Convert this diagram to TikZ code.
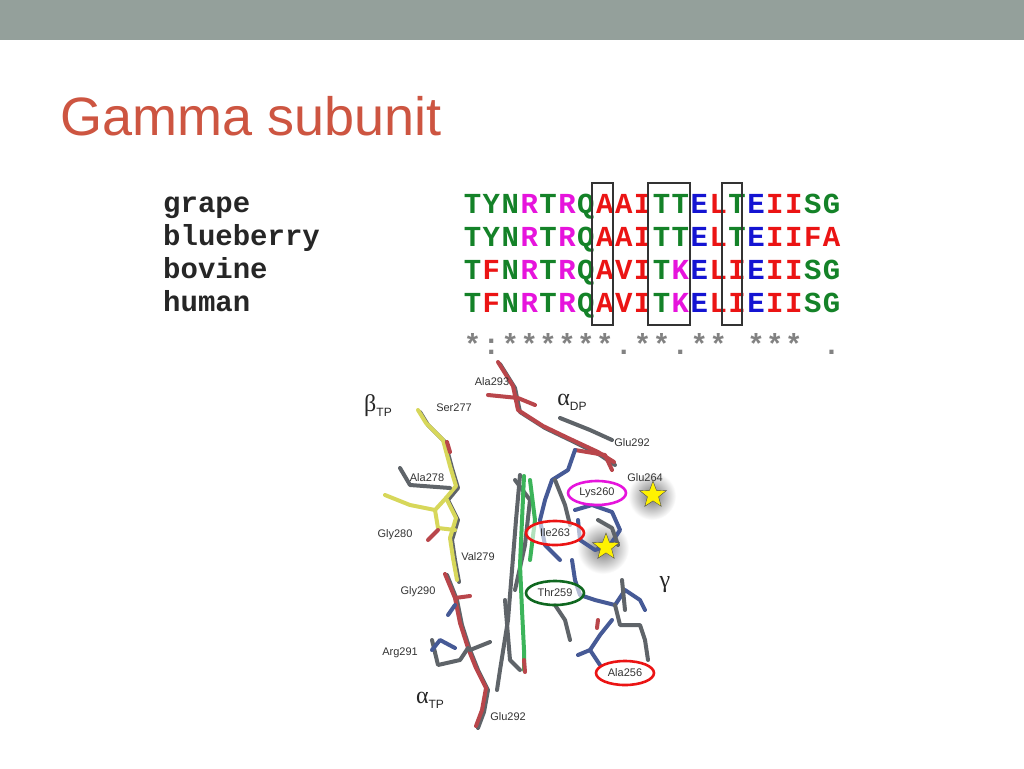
\documentclass[tikz,border=0pt]{standalone}
\usepackage{fontspec}
\setmainfont{Liberation Sans}
\newfontfamily\mono{Liberation Mono}[BoldFont={* Bold}]
\newfontfamily\grk{Liberation Serif}
\usetikzlibrary{shapes.geometric}
\definecolor{bar}{RGB}{148,160,155}
\definecolor{ttl}{RGB}{205,85,65}
\definecolor{cg}{RGB}{20,130,40}
\definecolor{cm}{RGB}{230,20,220}
\definecolor{cr}{RGB}{235,20,20}
\definecolor{cb}{RGB}{20,20,210}
\definecolor{cst}{RGB}{130,130,130}
\definecolor{yel}{RGB}{215,215,90}
\definecolor{rd}{RGB}{185,70,75}
\definecolor{gy}{RGB}{95,100,105}
\definecolor{bl}{RGB}{70,90,150}
\definecolor{gr}{RGB}{60,180,90}
\tikzset{
 aa/.style={font=\mono\bfseries\fontsize{29}{29}\selectfont,inner sep=0pt,anchor=base},
 nm/.style={font=\mono\bfseries\fontsize{29}{29}\selectfont,text=black!85,inner sep=0pt,anchor=base west},
 lab/.style={font=\fontsize{11}{11}\selectfont,text=black!80,inner sep=1pt},
 ring/.style={draw,ellipse,line width=2.6pt,inner sep=1pt,minimum height=24pt,minimum width=58pt,fill=white,fill opacity=0.6,text opacity=1},
 greek/.style={font=\grk\fontsize{24}{24}\selectfont,text=black!85,inner sep=1pt},
 stick/.style={line width=4pt,line cap=round,line join=round},
 abox/.style={draw=black!80,line width=1.6pt}
}
\newcommand{\seqrow}[3]{%
 \foreach \c/\col [count=\i from 0] in {#2} {
  \node[aa,text=\col] (s#3-\i) at ({472.5+18.9*\i},#1) {\c};}}
\newcommand{\subtxt}[1]{\raisebox{-5pt}{\fontspec{Liberation Sans}\fontsize{12}{12}\selectfont #1}}
\begin{document}
\begin{tikzpicture}[x=1pt,y=-1pt]
\useasboundingbox (0,0) rectangle (1024,768);
\fill[white] (0,0) rectangle (1024,768);
\fill[bar] (0,0) rectangle (1024,40);
\node[anchor=base west,text=ttl,font=\fontsize{54}{54}\selectfont,inner sep=0pt] (title) at (60,135) {Gamma subunit};
% names
\node[nm] (n1) at (163,212) {grape};
\node[nm] (n2) at (163,245) {blueberry};
\node[nm] (n3) at (163,278) {bovine};
\node[nm] (n4) at (163,311) {human};
\seqrow{213}{T/cg,Y/cg,N/cg,R/cm,T/cg,R/cm,Q/cg,A/cr,A/cr,I/cr,T/cg,T/cg,E/cb,L/cr,T/cg,E/cb,I/cr,I/cr,S/cg,G/cg}{1}
\seqrow{246}{T/cg,Y/cg,N/cg,R/cm,T/cg,R/cm,Q/cg,A/cr,A/cr,I/cr,T/cg,T/cg,E/cb,L/cr,T/cg,E/cb,I/cr,I/cr,F/cr,A/cr}{2}
\seqrow{279}{T/cg,F/cr,N/cg,R/cm,T/cg,R/cm,Q/cg,A/cr,V/cr,I/cr,T/cg,K/cm,E/cb,L/cr,I/cr,E/cb,I/cr,I/cr,S/cg,G/cg}{3}
\seqrow{312}{T/cg,F/cr,N/cg,R/cm,T/cg,R/cm,Q/cg,A/cr,V/cr,I/cr,T/cg,K/cm,E/cb,L/cr,I/cr,E/cb,I/cr,I/cr,S/cg,G/cg}{4}
\foreach \c [count=\i from 0] in {*,:,*,*,*,*,*,*,.,*,*,.,*,*, ,*,*,*, ,.} {
 \node[aa,text=cst] (c\i) at ({472.5+18.9*\i},354) {\c};}
\draw[abox] (592,183) rectangle (613,325);
\draw[abox] (648,183) rectangle (690,325);
\draw[abox] (722,183) rectangle (742,325);
% shadows under stars
\shade[inner color=black!55,outer color=white] (652,496) circle (24);
\shade[inner color=black!55,outer color=white] (603,548) circle (26);
% yellow beta chain
\draw[stick,gy] (420,412)--(428,425)--(445,442)--(452,468)--(458,488)--(448,500)--(458,520)--(452,540)--(455,560)--(459,582);
\draw[stick,yel] (418,410)--(426,423)--(443,440)--(450,466)--(456,486)--(446,498)--(456,518)--(450,538)--(453,558)--(457,580);
\draw[stick,yel] (385,495)--(410,505)--(435,510)--(446,498);
\draw[stick,yel] (435,510)--(438,528)--(455,530);
\draw[stick,gy] (400,468)--(410,485)--(450,488);
\draw[stick,rd] (447,442)--(450,452);
\draw[stick,rd] (428,540)--(438,530);
% alpha TP chain
\draw[stick,gy] (447,575)--(457,600)--(462,625)--(470,650)--(478,670)--(488,690)--(484,712)--(478,728);
\draw[stick,rd] (445,574)--(455,598)--(460,623)--(468,648)--(476,668)--(486,688)--(482,710)--(476,726);
\draw[stick,rd] (455,598)--(470,596);
\draw[stick,bl] (455,605)--(448,615);
\draw[stick,gy] (432,640)--(438,665)--(460,660)--(468,648);
\draw[stick,bl] (432,650)--(440,640)--(455,648);
\draw[stick,gy] (470,650)--(490,642);
% ring column (gray + green)
\draw[stick,gy] (520,475)--(516,520)--(512,570)--(508,620)--(500,670)--(497,690);
\draw[stick,gy] (515,480)--(530,500)--(525,545)--(515,590);
\draw[stick,gr] (524,476)--(522,520)--(520,565)--(522,610)--(524,650)--(524,670);
\draw[stick,gr] (530,480)--(535,520)--(530,560);
\draw[stick,rd] (524,660)--(525,672);
\draw[stick,gy] (505,600)--(510,660)--(520,670);
% alpha DP chain
\draw[stick,gy] (500,364)--(515,388)--(520,412)--(545,428)--(570,440)--(600,455)--(615,465);
\draw[stick,rd] (498,362)--(513,386)--(518,410)--(543,426)--(568,438)--(598,452)--(614,462);
\draw[stick,rd] (488,395)--(518,398)--(535,405);
\draw[stick,gy] (560,418)--(590,430)--(612,440);
\draw[stick,rd] (575,450)--(605,455)--(612,470);
% gamma chain (blue/gray)
\draw[stick,bl] (575,450)--(568,470)--(552,480)--(545,500)--(540,520)--(545,545)--(560,560);
\draw[stick,gy] (555,480)--(565,505)--(570,525);
\draw[stick,bl] (575,510)--(592,505)--(612,512)--(620,530)--(610,545)--(595,550)--(580,540)--(578,520);
\draw[stick,gy] (598,520)--(612,528)--(618,545);
\draw[stick,bl] (572,560)--(575,580)--(580,595)--(595,600)--(615,605)--(625,590)--(640,600)--(645,610);
\draw[stick,gy] (615,605)--(620,625)--(640,625)--(645,640)--(648,660);
\draw[stick,gy] (555,605)--(565,620)--(570,640);
\draw[stick,gy] (622,580)--(625,610);
\draw[stick,bl] (612,620)--(600,635)--(590,650)--(578,655);
\draw[stick,rd] (598,620)--(597,628);
\draw[stick,bl] (590,650)--(600,665);
% labels
\node[lab] (l1) at (492,382) {Ala293};
\node[greek] (ad) at (572,402) {α\subtxt{DP}};
\node[greek] (bt) at (378,406) {β\subtxt{TP}};
\node[lab] (l2) at (454,408) {Ser277};
\node[lab] (l3) at (632,443) {Glu292};
\node[lab] (l4) at (645,478) {Glu264};
\node[lab,ring,draw=cm] (l5) at (597,493) {Lys260};
\node[lab] (l6) at (427,478) {Ala278};
\node[lab] (l7) at (395,535) {Gly280};
\node[lab,ring,draw=cr] (l8) at (555,533) {Ile263};
\node[lab] (l9) at (478,557) {Val279};
\node[greek] (g) at (665,585) {γ};
\node[lab] (l10) at (418,592) {Gly290};
\node[lab,ring,draw=cg!80!black] (l11) at (555,593) {Thr259};
\node[lab] (l12) at (400,653) {Arg291};
\node[lab,ring,draw=cr] (l13) at (625,673) {Ala256};
\node[greek] (at) at (430,700) {α\subtxt{TP}};
\node[lab] (l14) at (508,717) {Glu292};
% stars
\node[star,star points=5,star point ratio=2.4,fill=yellow,draw=black!70,minimum size=28pt,inner sep=0pt] (st1) at (653,495) {};
\node[star,star points=5,star point ratio=2.4,fill=yellow,draw=black!70,minimum size=28pt,inner sep=0pt] (st2) at (606,547) {};
\end{tikzpicture}
\end{document}
